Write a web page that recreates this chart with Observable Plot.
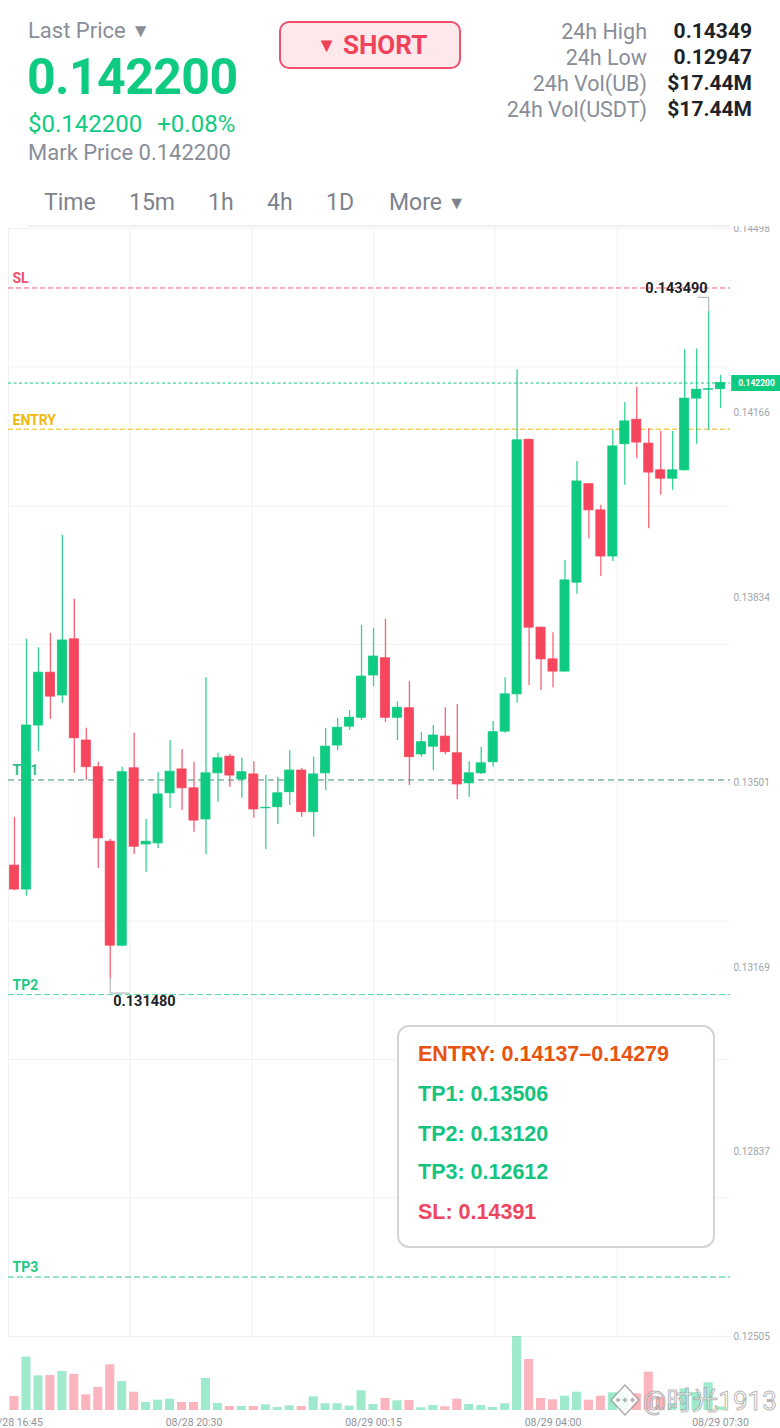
<!DOCTYPE html>
<html><head><meta charset="utf-8">
<script src="https://cdn.jsdelivr.net/npm/d3@7"></script>
<script src="https://cdn.jsdelivr.net/npm/@observablehq/plot@0.6"></script>
<style>
html,body{margin:0;padding:0;background:#fff;}
#root{position:relative;width:780px;height:1428px;overflow:hidden;font-family:Roboto,"Noto Sans",sans-serif;background:#fff;}
.t{position:absolute;line-height:1;white-space:nowrap;}
.abs{position:absolute;}
</style></head><body><div id="root"></div>
<script>
// ---------- data ----------
const timeLabels = ["08/28 16:45", "08/28 20:30", "08/29 00:15", "08/29 04:00", "08/29 07:30"];
const timeTickIndex = [0, 15, 30, 45, 59];

const opens = [0.13352,0.13309,0.13604,0.13699,0.13658,0.13759,0.13577,0.13529,0.13395,0.13208,
  0.13527,0.13390,0.13392,0.13482,0.13525,0.13491,0.13435,0.13518,0.13548,0.13507,
  0.13516,0.13455,0.13457,0.13484,0.13523,0.13448,0.13518,0.13568,0.13602,0.13618,
  0.13694,0.13725,0.13618,0.13635,0.13552,0.13566,0.13584,0.13554,0.13500,0.13518,
  0.13538,0.13593,0.13660,0.14118,0.13780,0.13723,0.13701,0.13861,0.14038,0.13991,
  0.13908,0.14110,0.14154,0.14111,0.14063,0.14048,0.14063,0.14192,0.14208,0.14209];
const highs = [0.13439,0.13759,0.13744,0.13770,0.13946,0.13831,0.13599,0.13538,0.13399,0.13529,
  0.13590,0.13435,0.13520,0.13577,0.13561,0.13538,0.13690,0.13554,0.13552,0.13545,
  0.13539,0.13514,0.13511,0.13559,0.13527,0.13547,0.13599,0.13617,0.13631,0.13784,
  0.13779,0.13795,0.13647,0.13683,0.13592,0.13604,0.13636,0.13642,0.13539,0.13565,
  0.13611,0.13690,0.14244,0.14119,0.13781,0.13771,0.13901,0.14079,0.14039,0.14000,
  0.14135,0.14185,0.14212,0.14138,0.14133,0.14133,0.14280,0.14281,0.14349,0.14234];
const lows = [0.13307,0.13297,0.13557,0.13615,0.13644,0.13518,0.13505,0.13347,0.13148,0.13206,
  0.13372,0.13340,0.13383,0.13455,0.13451,0.13412,0.13372,0.13466,0.13493,0.13473,
  0.13437,0.13381,0.13426,0.13460,0.13439,0.13403,0.13487,0.13559,0.13595,0.13613,
  0.13674,0.13609,0.13577,0.13496,0.13547,0.13523,0.13552,0.13471,0.13475,0.13516,
  0.13529,0.13590,0.13644,0.13676,0.13667,0.13672,0.13700,0.13840,0.13940,0.13872,
  0.13899,0.14036,0.14084,0.13958,0.14018,0.14027,0.14062,0.14110,0.14135,0.14174];
const closes = [0.13309,0.13604,0.13699,0.13656,0.13757,0.13581,0.13529,0.13401,0.13208,0.13520,
  0.13386,0.13395,0.13480,0.13521,0.13491,0.13433,0.13518,0.13545,0.13514,0.13520,
  0.13453,0.13456,0.13482,0.13523,0.13448,0.13516,0.13566,0.13600,0.13618,0.13692,
  0.13728,0.13618,0.13636,0.13547,0.13574,0.13586,0.13556,0.13498,0.13518,0.13536,
  0.13592,0.13660,0.14117,0.13780,0.13723,0.13701,0.13865,0.14043,0.13991,0.13908,
  0.14106,0.14151,0.14113,0.14059,0.14048,0.14063,0.14192,0.14208,0.14209,0.14220];
const volumes = [140,533,347,350,390,360,157,230,457,290,
  183,80,103,113,80,80,320,70,40,40,
  40,57,30,47,40,137,67,67,43,197,
  60,120,97,100,27,50,37,113,60,50,
  30,67,740,510,120,107,143,183,103,143,
  177,170,167,383,133,70,217,180,277,35];

const priceTicks = [0.14498, 0.14166, 0.13834, 0.13501, 0.13169, 0.12837, 0.12505];
const gridPrices = [0.14498, 0.14249, 0.13999, 0.13750, 0.13501, 0.13252, 0.13003, 0.12754, 0.12505];
const gridIndex = [-0.5, 9.64, 19.83, 30.03, 40.15, 50.37];

const levelNames = ["SL", "ENTRY", "TP1", "TP2", "TP3"];
const levelPrices = [0.14391, 0.14137, 0.13506, 0.13120, 0.12612];
const entryRange = [0.14137, 0.14279];
const lastPrice = 0.142200;
const changePct = "+0.08%";

const statLabels = ["24h High", "24h Low", "24h Vol(UB)", "24h Vol(USDT)"];
const statValues = ["0.14349", "0.12947", "$17.44M", "$17.44M"];
const tabs = ["Time", "15m", "1h", "4h", "1D", "More"];

// ---------- styles ----------
const GREEN = "#0ecb81", RED = "#f6465d";
const levelStyle = {
  SL:    {line: "#ec5f77", text: "#f0506e", dash: "5,3"},
  ENTRY: {line: "#f0b90b", text: "#f0b90b", dash: "5,3"},
  TP1:   {line: "#3f8f74", text: "#2ebd85", dash: "6,4"},
  TP2:   {line: "#48d9a6", text: "#22c985", dash: "6,3"},
  TP3:   {line: "#2bcc8c", text: "#1fc987", dash: "6,3"}
};

const candles = opens.map((o, i) => ({i, open: o, high: highs[i], low: lows[i], close: closes[i], vol: volumes[i],
  color: closes[i] >= o ? GREEN : RED}));
const levels = levelNames.map((n, k) => ({name: n, price: levelPrices[k], color: levelStyle[n].text}));
const lowIdx = lows.indexOf(d3.min(lows));
const highIdx = highs.indexOf(d3.max(highs));
const f6 = d3.format(".6f"), f5 = d3.format(".5f");

const root = document.getElementById("root");
function put(html, x, y, fs, color, opts = {}) {
  const el = document.createElement("div");
  el.className = "t";
  el.innerHTML = html;
  el.style.fontSize = fs + "px";
  el.style.color = color;
  el.style.fontWeight = opts.weight || 400;
  if (opts.family) el.style.fontFamily = opts.family;
  if (opts.ls) el.style.letterSpacing = opts.ls + "px";
  el.style.top = (y - (opts.k || 0.4865) * fs) + "px";
  if (opts.anchor === "end") el.style.right = (780 - x) + "px"; else el.style.left = x + "px";
  el.style.zIndex = 5;
  root.appendChild(el);
  return el;
}

// ---------- price chart ----------
const xDomain = [-0.5, 59.83];
const price = Plot.plot({
  width: 780, height: 1202,
  marginTop: 2, marginBottom: 92, marginLeft: 8, marginRight: 50,
  style: {background: "white", color: "#a0a5ad", fontFamily: "Roboto, sans-serif", fontSize: "10px"},
  x: {domain: xDomain, axis: null},
  y: {domain: [priceTicks[priceTicks.length - 1], priceTicks[0]], axis: "right", ticks: priceTicks,
      tickFormat: f5, tickSize: 0, tickPadding: 3, label: null},
  marks: [
    Plot.ruleY(gridPrices, {stroke: "#f0f1f3", strokeWidth: 1}),
    Plot.ruleX(gridIndex, {stroke: "#f0f1f3", strokeWidth: 1}),
    ...levels.map(l => Plot.ruleY([l.price], {stroke: levelStyle[l.name].line, strokeWidth: 1, strokeDasharray: levelStyle[l.name].dash})),
    Plot.text(levels, {x: -0.5, y: "price", text: "name", fill: "color", dx: 4, dy: -9, textAnchor: "start",
      fontSize: 14, fontWeight: 700}),
    Plot.ruleY([lastPrice], {stroke: GREEN, strokeWidth: 1, strokeDasharray: "3,2.5"}),
    Plot.ruleX(candles, {x: "i", y1: "low", y2: "high", stroke: "color", strokeWidth: 1.3, strokeOpacity: 0.85}),
    Plot.rect(candles, {x1: d => d.i - 0.38, x2: d => d.i + 0.38, y1: "open", y2: "close", fill: "color",
      stroke: "color", strokeWidth: 0.8}),
    Plot.ruleY([lastPrice], {x1: 59.93, x2: 64.5, stroke: GREEN, strokeWidth: 16}),
    Plot.text([lastPrice], {x: 62, y: d => d, text: d => f6(d), fill: "white", fontSize: 8.5, fontWeight: 700}),
    // low annotation
    Plot.ruleX([lowIdx], {x: d => d, y1: lows[lowIdx], y2: lows[lowIdx], insetBottom: -14, stroke: "#b5b9c0", strokeWidth: 1.2}),
    Plot.ruleY([lows[lowIdx]], {x1: lowIdx, x2: lowIdx + 1.65, dy: 14, stroke: "#b5b9c0", strokeWidth: 1.2}),
    Plot.text([lowIdx], {x: d => d, y: lows[lowIdx], text: d => f6(lows[d]), dx: 3, dy: 22, textAnchor: "start",
      fill: "#1e2329", fontSize: 14.5, fontWeight: 700}),
    // high annotation
    Plot.ruleX([highIdx], {x: d => d, y1: highs[highIdx], y2: highs[highIdx], insetTop: -14, stroke: "#b5b9c0", strokeWidth: 1.2}),
    Plot.ruleY([highs[highIdx]], {x1: highIdx - 0.9, x2: highIdx, dy: -14, stroke: "#b5b9c0", strokeWidth: 1.2}),
    Plot.text([highIdx], {x: d => d, y: highs[highIdx], text: d => f6(highs[d]), dx: -1, dy: -23, textAnchor: "end",
      fill: "#1e2329", fontSize: 14.5, fontWeight: 700})
  ]
});
price.style.position = "absolute"; price.style.left = "0px"; price.style.top = "226px";
root.appendChild(price);

// ---------- volume chart ----------
const vol = Plot.plot({
  width: 780, height: 92,
  marginTop: 0, marginBottom: 18, marginLeft: 8, marginRight: 50,
  style: {background: "transparent", color: "#8f949c", fontFamily: "Roboto, sans-serif", fontSize: "10.5px", overflow: "visible"},
  x: {domain: xDomain, axis: "bottom", ticks: timeTickIndex, tickFormat: d => timeLabels[timeTickIndex.indexOf(d)],
      tickSize: 0, tickPadding: 8, label: null},
  y: {domain: [0, d3.max(volumes)], axis: null},
  marks: [
    Plot.rectY(candles, {x1: d => d.i - 0.38, x2: d => d.i + 0.38, y: "vol", fill: "color", fillOpacity: 0.4})
  ]
});
vol.style.position = "absolute"; vol.style.left = "0px"; vol.style.top = "1336px";
root.appendChild(vol);

// ---------- header ----------
const GRAY = "#898e98";
put(`Last Price <span style="font-size:19px;position:relative;top:-1px">▼</span>`, 28, 31, 22, GRAY);
put(f6(lastPrice), 27, 76, 50, GREEN, {weight: 700, ls: -0.6});
put(`$${f6(lastPrice)}<span style="margin-left:15px">${changePct}</span>`, 28, 124, 24, GREEN);
put(`Mark Price ${f6(lastPrice)}`, 28, 153, 22, GRAY);

const btn = document.createElement("div");
btn.className = "abs";
Object.assign(btn.style, {left: "279px", top: "21px", width: "182px", height: "48px", boxSizing: "border-box",
  border: "2px solid #f0506b", borderRadius: "10px", background: "#fde8ec", zIndex: 4});
root.appendChild(btn);
put(`<span style="font-size:20px;position:relative;top:-2px">▼</span> SHORT`, 372, 45, 26, "#f0435a", {weight: 700}).style.transform = "translateX(-50%)";

statLabels.forEach((s, k) => {
  const y = [31, 57, 83, 109][k];
  put(s, 647, y, 21.5, GRAY, {anchor: "end"});
  put(statValues[k], 752, y, 21, "#1e2329", {anchor: "end", weight: 700});
});
const tabX = [44, 129, 208, 267, 326, 389];
tabs.forEach((t, k) => {
  put(t === "More" ? `More <span style="font-size:18px;position:relative;top:-1px">▼</span>` : t, tabX[k], 202, 23, "#7d828c");
});
const sep = document.createElement("div");
sep.className = "abs";
Object.assign(sep.style, {left: "27px", top: "225px", width: "703px", height: "2px", background: "#efefef", zIndex: 6});
root.appendChild(sep);

// ---------- info box ----------
const box = document.createElement("div");
box.className = "abs";
Object.assign(box.style, {left: "397px", top: "1025px", width: "318px", height: "223px", boxSizing: "border-box",
  border: "2px solid #d1d4d9", borderRadius: "12px", background: "white", zIndex: 4});
root.appendChild(box);
const infoText = [
  {t: `ENTRY: ${f5(entryRange[0])}–${f5(entryRange[1])}`, c: "#e8530f"},
  {t: `TP1: ${f5(levelPrices[2])}`, c: "#14c47e"},
  {t: `TP2: ${f5(levelPrices[3])}`, c: "#14c47e"},
  {t: `TP3: ${f5(levelPrices[4])}`, c: "#14c47e"},
  {t: `SL: ${f5(levelPrices[0])}`, c: "#f0455f"}
];
const infoY = [1054.7, 1094.5, 1134.5, 1172.8, 1212.8];
infoText.forEach((d, k) => put(d.t, 418, infoY[k], 21.5, d.c, {weight: 700, family: "'Liberation Sans', Arial, sans-serif", k: 0.4885}));

// ---------- watermark ----------
const wm = document.createElement("div");
wm.className = "abs";
Object.assign(wm.style, {left: "610px", top: "1384px", zIndex: 7});
wm.innerHTML = `<svg width="30" height="32" viewBox="0 0 30 32">
<path d="M15 1 L29 16 L15 31 L1 16 Z" fill="rgba(255,255,255,0.85)" stroke="rgba(140,140,140,0.7)" stroke-width="1.5"/>
<path d="M8 16 l2.5 -2.5 l2.5 2.5 l-2.5 2.5 Z M15 16 l2.5 -2.5 l2.5 2.5 l-2.5 2.5 Z" fill="rgba(150,150,150,0.7)" transform="translate(-2.5 0)"/>
<path d="M20 16 l2.5 -2.5 l2.5 2.5 l-2.5 2.5 Z" fill="rgba(150,150,150,0.7)"/>
</svg>`;
root.appendChild(wm);
const wmt = put(`@时光1913`, 643, 1401, 26, "rgba(255,255,255,0.75)", {family: "Roboto, 'Noto Sans CJK SC', sans-serif"});
wmt.style.webkitTextStroke = "1px rgba(120,120,120,0.55)";
wmt.style.zIndex = 7;
</script></body></html>
